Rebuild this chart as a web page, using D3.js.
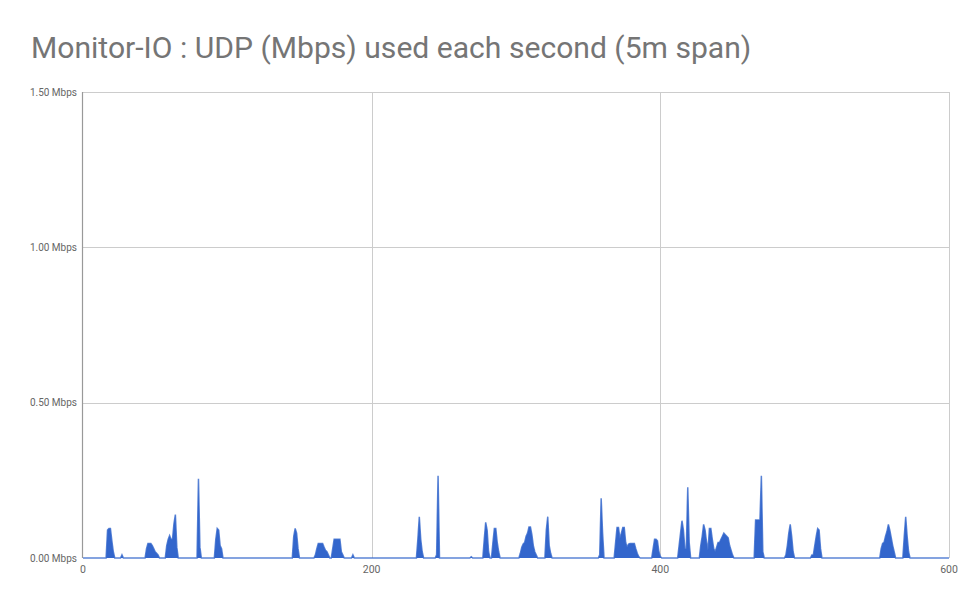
<!DOCTYPE html>
<html><head><meta charset="utf-8">
<script src="https://cdn.jsdelivr.net/npm/d3@7"></script>
<style>body{margin:0;background:#fff;}svg{display:block;font-family:Roboto,"Noto Sans",sans-serif;}</style>
</head><body>
<svg id="c" width="980" height="606"></svg>
<script>
const title = "Monitor-IO : UDP (Mbps) used each second (5m span)";
const xTicks = [0, 200, 400, 600];
const yTicks = [0, 0.5, 1.0, 1.5];
const yTickLabels = ["0.00 Mbps", "0.50 Mbps", "1.00 Mbps", "1.50 Mbps"];

const seconds = [
  0,
  16,17,18,19,20,21,22,
  26,27,28,
  43,44,45,46,47,48,49,50,51,52,53,
  57,58,59,60,61,62,63,64,65,66,
  79,80,81,82,
  91,92,93,94,95,96,97,
  145,146,147,148,149,150,
  160,161,162,163,164,165,166,167,168,169,170,171,
  172,173,174,175,176,177,178,179,180,181,
  186,187,188,
  231,232,233,234,235,236,
  244,245,246,247,
  268,269,270,
  277,278,279,280,281,282,
  283,284,285,286,287,288,289,
  302,303,304,305,306,307,308,309,310,311,312,313,314,315,
  320,321,322,323,324,325,
  357,358,359,360,361,
  368,369,370,371,372,373,374,375,376,377,378,379,380,381,382,383,384,385,386,
  394,395,396,397,398,399,400,401,
  412,413,414,415,416,417,418,419,420,421,
  427,428,429,430,431,432,433,434,435,436,437,438,439,440,441,442,443,444,445,446,447,448,449,450,451,
  465,466,467,468,469,470,471,472,
  486,487,488,489,490,491,492,493,
  504,505,506,507,508,509,510,511,512,
  552,553,554,555,556,557,558,559,560,561,562,563,
  568,569,570,571,572,573,
  600
];
const mbps = [
  0,
  0,0.09,0.095,0.095,0.055,0.02,0,
  0,0.01,0,
  0,0.03,0.047,0.047,0.047,0.04,0.03,0.02,0.015,0.01,0,
  0,0.04,0.06,0.072,0.06,0.06,0.11,0.14,0.035,0,
  0,0.255,0.035,0,
  0,0.06,0.095,0.09,0.04,0.03,0,
  0,0.07,0.095,0.08,0.03,0,
  0,0.01,0.03,0.047,0.047,0.047,0.047,0.035,0.025,0.02,0.01,0,
  0,0.03,0.06,0.06,0.06,0.06,0.06,0.02,0.01,0,
  0,0.01,0,
  0,0.06,0.133,0.06,0.02,0,
  0,0.01,0.265,0,
  0,0.004,0,
  0,0.06,0.115,0.09,0.02,0,
  0,0.05,0.095,0.095,0.05,0.02,0,
  0,0.015,0.035,0.045,0.05,0.07,0.08,0.1,0.1,0.075,0.04,0.02,0.01,0,
  0,0.09,0.133,0.04,0.015,0,
  0,0.01,0.192,0.08,0,
  0,0.05,0.098,0.098,0.063,0.08,0.098,0.098,0.05,0.035,0.045,0.047,0.047,0.047,0.047,0.03,0.015,0.005,0,
  0,0.03,0.06,0.06,0.055,0.02,0.005,0,
  0,0.04,0.08,0.12,0.09,0.03,0.03,0.228,0.05,0,
  0,0.04,0.07,0.108,0.09,0.052,0.025,0.095,0.095,0.06,0.03,0.02,0.035,0.05,0.05,0.06,0.07,0.08,0.075,0.07,0.065,0.04,0.025,0.01,0,
  0,0.122,0.122,0.122,0.122,0.265,0.02,0,
  0,0.01,0.04,0.08,0.108,0.07,0.02,0,
  0,0.01,0.01,0.04,0.07,0.095,0.09,0.03,0,
  0,0.03,0.047,0.05,0.07,0.085,0.108,0.09,0.065,0.04,0.02,0,
  0,0.07,0.133,0.07,0.02,0,
  0
];

const data = seconds.map((s, i) => ({ s, v: mbps[i] }));
const svg = d3.select("#c");
const L = 83, R = 949, T = 92, B = 558;
const x = d3.scaleLinear().domain([0, 600]).range([L, R]);
const y = d3.scaleLinear().domain([0, 1.5]).range([B, T]);

svg.append("text").attr("x", 31).attr("y", 58)
  .attr("font-size", 30.1).attr("fill", "#757575").text(title);

// gridlines
const g = svg.append("g");
g.selectAll(".hy").data(yTicks.filter(d => d > 0)).join("line")
  .attr("x1", L).attr("x2", R).attr("y1", d => Math.round(y(d)) + 0.5).attr("y2", d => Math.round(y(d)) + 0.5)
  .attr("stroke", "#cccccc").attr("stroke-width", 1);
g.selectAll(".vx").data(xTicks.filter(d => d > 0)).join("line")
  .attr("y1", T).attr("y2", B).attr("x1", d => Math.round(x(d)) + 0.5).attr("x2", d => Math.round(x(d)) + 0.5)
  .attr("stroke", "#cccccc").attr("stroke-width", 1);

// y tick labels
svg.append("g").selectAll("text").data(yTicks).join("text")
  .attr("x", 77).attr("y", d => y(d)).attr("dy", "0.35em")
  .attr("text-anchor", "end").attr("font-size", 10).attr("fill", "#666")
  .text((d, i) => yTickLabels[i]);

// x tick labels
svg.append("g").selectAll("text").data(xTicks).join("text")
  .attr("x", d => x(d)).attr("y", 573)
  .attr("text-anchor", "middle").attr("font-size", 10.5).attr("fill", "#666")
  .text(d => d);

// area
const area = d3.area().x(d => x(d.s)).y0(y(0)).y1(d => y(d.v));
svg.append("path").datum(data).attr("d", area).attr("fill", "#3366cc");
const line = d3.line().x(d => x(d.s)).y(d => y(d.v));
svg.append("path").datum(data).attr("d", line).attr("fill", "none")
  .attr("stroke", "#3366cc").attr("stroke-width", 1.5).attr("stroke-opacity", 0.8);

// left axis line
svg.append("line").attr("x1", L - 0.5).attr("x2", L - 0.5).attr("y1", T).attr("y2", B)
  .attr("stroke", "#999").attr("stroke-width", 1.2);
</script>
</body></html>
